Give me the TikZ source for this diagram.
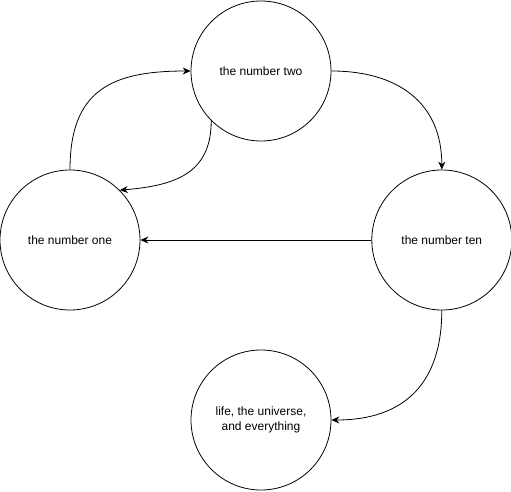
\documentclass[tikz,border=0pt]{standalone}
\usepackage{fontspec}
\setmainfont{Liberation Sans}
\usetikzlibrary{arrows.meta,positioning}

\begin{document}
\begin{tikzpicture}[
  x=1pt, y=1pt, >={Stealth[length=8pt,width=7pt]}, line width=0.8pt,
  state/.style={circle, draw, minimum size=140pt, inner sep=2pt, align=center,
    font=\fontsize{12}{14.5}\selectfont},
]
  \useasboundingbox (0,0) rectangle (511,491);
  \node[state] (one) at (70,251) {the number one};
  \node[state, right=231pt of one] (ten) {the number ten};
  \node[state] (two) at (261,420) {the number two};
  \node[state] (life) at (261,71) {life, the universe,\\and everything};

  \draw[->] (one.north) to[out=90, in=180, looseness=1.3] (two.west);
  \draw[->] (two.south west) to[out=-90, in=5, looseness=1.2] (one.north east);
  \draw[->] (two.east) to[out=0, in=90, looseness=1.15] (ten.north);
  \draw[->] (ten.west) -- (one.east);
  \draw[->] (ten.south) to[out=-90, in=0, looseness=1.2] (life.east);
\end{tikzpicture}
\end{document}
